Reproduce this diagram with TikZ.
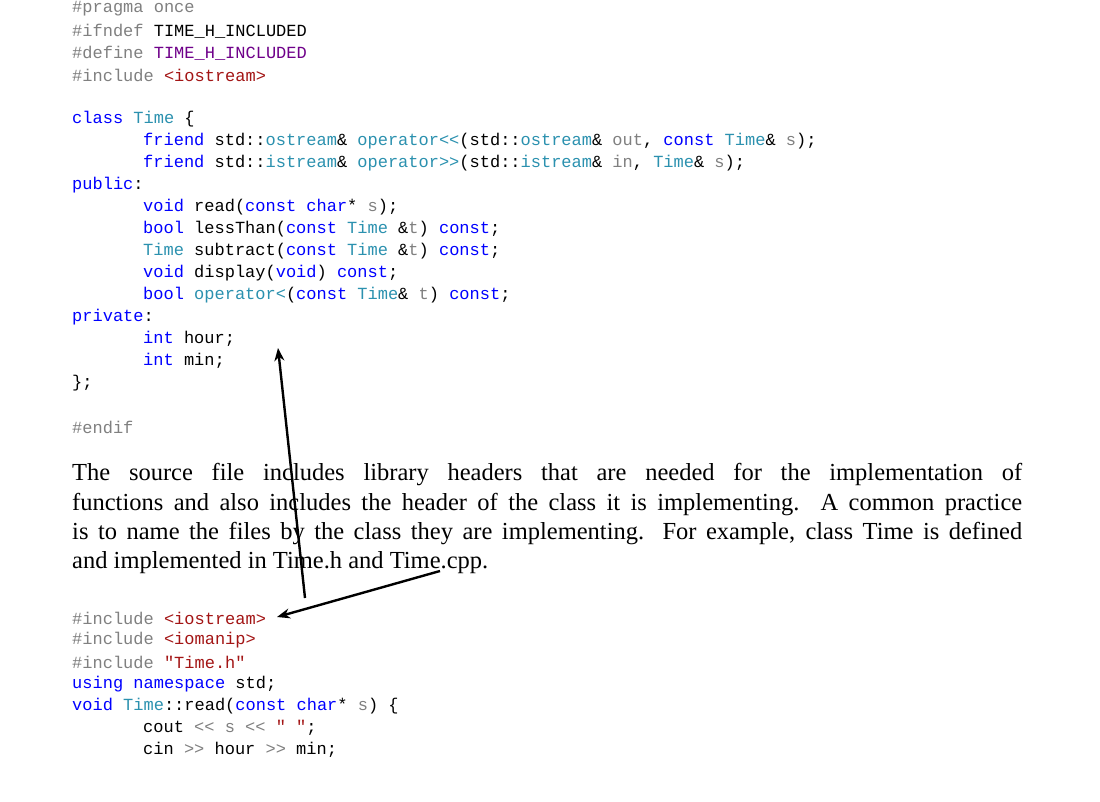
\documentclass[tikz,border=0pt]{standalone}
\usetikzlibrary{arrows.meta}
\usepackage{fontspec}
\setmainfont{Liberation Serif}
\newfontfamily\cf{Liberation Mono}
\definecolor{kw}{RGB}{0,0,255}
\definecolor{ty}{RGB}{43,145,175}
\definecolor{pp}{RGB}{128,128,128}
\definecolor{mc}{RGB}{111,0,138}
\definecolor{st}{RGB}{163,21,21}
\newcommand\K[1]{\textcolor{kw}{#1}}
\newcommand\T[1]{\textcolor{ty}{#1}}
\newcommand\G[1]{\textcolor{pp}{#1}}
\newcommand\M[1]{\textcolor{mc}{#1}}
\newcommand\R[1]{\textcolor{st}{#1}}
\newcommand\JL[1]{\hbox to 950pt{#1}}
\begin{document}
\begin{tikzpicture}[x=1pt,y=-1pt,
  code/.style={anchor=west,inner sep=0pt,font=\cf\fontsize{17}{20}\selectfont},
  prose/.style={anchor=west,inner sep=0pt,font=\fontsize{24.5}{28}\selectfont},
  arr/.style={-{Stealth[length=13pt,width=10pt]},line width=2.4pt}]
\useasboundingbox[fill=white] (0,0) rectangle (1100,802);
\node[code] (c1) at (72,9) {\G{\#pragma once}};
\node[code] (c2) at (72,31) {\G{\#ifndef} TIME\_H\_INCLUDED};
\node[code] (c3) at (72,53) {\G{\#define} \M{TIME\_H\_INCLUDED}};
\node[code] (c4) at (72,75) {\G{\#include} \R{<iostream>}};
\node[code] (c5) at (72,119) {\K{class} \T{Time} \{};
\node[code] (c6) at (143,141) {\K{friend} std::\T{ostream}\& \T{operator<<}(std::\T{ostream}\& \G{out}, \K{const} \T{Time}\& \G{s});};
\node[code] (c7) at (143,163) {\K{friend} std::\T{istream}\& \T{operator>>}(std::\T{istream}\& \G{in}, \T{Time}\& \G{s});};
\node[code] (c8) at (72,185) {\K{public}:};
\node[code] (c9) at (143,207) {\K{void} read(\K{const} \K{char}* \G{s});};
\node[code] (c10) at (143,229) {\K{bool} lessThan(\K{const} \T{Time} \&\G{t}) \K{const};};
\node[code] (c11) at (143,251) {\T{Time} subtract(\K{const} \T{Time} \&\G{t}) \K{const};};
\node[code] (c12) at (143,273) {\K{void} display(\K{void}) \K{const};};
\node[code] (c13) at (143,295) {\K{bool} \T{operator<}(\K{const} \T{Time}\& \G{t}) \K{const};};
\node[code] (c14) at (72,317) {\K{private}:};
\node[code] (c15) at (143,339) {\K{int} hour;};
\node[code] (c16) at (143,361) {\K{int} min;};
\node[code] (c17) at (72,383) {\};};
\node[code] (c18) at (72,427) {\G{\#endif}};
\node[prose] (p1) at (72,475) {\JL{The source file includes library headers that are needed for the implementation of}};
\node[prose] (p2) at (72,505) {\JL{functions and also includes the header of the class it is implementing. A common practice}};
\node[prose] (p3) at (72,534) {\JL{is to name the files by the class they are implementing. For example, class Time is defined}};
\node[prose] (p4) at (72,563) {and implemented in Time.h and Time.cpp.};
\node[code] (b1) at (72,618) {\G{\#include} \R{<iostream>}};
\node[code] (b2) at (72,640) {\G{\#include} \R{<iomanip>}};
\node[code] (b3) at (72,662) {\G{\#include} \R{"Time.h"}};
\node[code] (b4) at (72,684) {\K{using} \K{namespace} std;};
\node[code] (b5) at (72,706) {\K{void} \T{Time}::read(\K{const} \K{char}* \G{s}) \{};
\node[code] (b6) at (143,728) {cout \G{<<} \G{s} \G{<<} \R{" "};};
\node[code] (b7) at (143,750) {cin \G{>>} hour \G{>>} min;};
\coordinate (s1) at (305,598);
\coordinate (e1) at (278,348);
\coordinate (s2) at (440,571);
\coordinate (e2) at (277,617);
\draw[arr] (s1) -- (e1);
\draw[arr] (s2) -- (e2);
\end{tikzpicture}
\end{document}
